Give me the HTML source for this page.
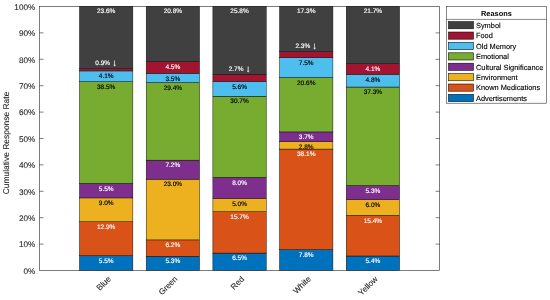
<!DOCTYPE html><html><head><meta charset="utf-8"><title>chart</title><style>html,body{margin:0;padding:0;background:#fff}svg{display:block}</style></head><body><svg width="550" height="300" viewBox="0 0 550 300" font-family="Liberation Sans, Arial, sans-serif" text-rendering="geometricPrecision">
<rect width="550" height="300" fill="#fff"/>
<rect x="79.51" y="255.73" width="53.35" height="14.52" fill="#0072BD" stroke="#000" stroke-width="0.45"/>
<rect x="79.51" y="221.67" width="53.35" height="34.06" fill="#D95319" stroke="#000" stroke-width="0.45"/>
<rect x="79.51" y="197.91" width="53.35" height="23.76" fill="#EDB120" stroke="#000" stroke-width="0.45"/>
<rect x="79.51" y="183.39" width="53.35" height="14.52" fill="#7E2F8E" stroke="#000" stroke-width="0.45"/>
<rect x="79.51" y="81.75" width="53.35" height="101.64" fill="#77AC30" stroke="#000" stroke-width="0.45"/>
<rect x="79.51" y="70.93" width="53.35" height="10.82" fill="#4DBEEE" stroke="#000" stroke-width="0.45"/>
<rect x="79.51" y="68.55" width="53.35" height="2.38" fill="#A2142F" stroke="#000" stroke-width="0.45"/>
<rect x="79.51" y="6.25" width="53.35" height="62.30" fill="#404040" stroke="#000" stroke-width="0.45"/>
<text x="106.18" y="262.93" font-size="6.5" fill="#fff" stroke="#fff" stroke-width="0.15" text-anchor="middle">5.5%</text>
<text x="106.18" y="228.87" font-size="6.5" fill="#fff" stroke="#fff" stroke-width="0.15" text-anchor="middle">12.9%</text>
<text x="106.18" y="205.11" font-size="6.5" fill="#000" stroke="#000" stroke-width="0.15" text-anchor="middle">9.0%</text>
<text x="106.18" y="190.59" font-size="6.5" fill="#fff" stroke="#fff" stroke-width="0.15" text-anchor="middle">5.5%</text>
<text x="106.18" y="88.95" font-size="6.5" fill="#000" stroke="#000" stroke-width="0.15" text-anchor="middle">38.5%</text>
<text x="106.18" y="78.13" font-size="6.5" fill="#000" stroke="#000" stroke-width="0.15" text-anchor="middle">4.1%</text>
<text x="106.18" y="65.05" font-size="6.5" fill="#fff" stroke="#fff" stroke-width="0.15" text-anchor="middle">0.9% <tspan font-size="9.5" dy="0.7" dx="0.3">↓</tspan></text>
<text x="106.18" y="13.45" font-size="6.5" fill="#fff" stroke="#fff" stroke-width="0.15" text-anchor="middle">23.6%</text>
<rect x="146.19" y="256.26" width="53.35" height="13.99" fill="#0072BD" stroke="#000" stroke-width="0.45"/>
<rect x="146.19" y="239.89" width="53.35" height="16.37" fill="#D95319" stroke="#000" stroke-width="0.45"/>
<rect x="146.19" y="179.17" width="53.35" height="60.72" fill="#EDB120" stroke="#000" stroke-width="0.45"/>
<rect x="146.19" y="160.16" width="53.35" height="19.01" fill="#7E2F8E" stroke="#000" stroke-width="0.45"/>
<rect x="146.19" y="82.55" width="53.35" height="77.62" fill="#77AC30" stroke="#000" stroke-width="0.45"/>
<rect x="146.19" y="73.31" width="53.35" height="9.24" fill="#4DBEEE" stroke="#000" stroke-width="0.45"/>
<rect x="146.19" y="61.43" width="53.35" height="11.88" fill="#A2142F" stroke="#000" stroke-width="0.45"/>
<rect x="146.19" y="6.25" width="53.35" height="55.18" fill="#404040" stroke="#000" stroke-width="0.45"/>
<text x="172.87" y="263.46" font-size="6.5" fill="#fff" stroke="#fff" stroke-width="0.15" text-anchor="middle">5.3%</text>
<text x="172.87" y="247.09" font-size="6.5" fill="#fff" stroke="#fff" stroke-width="0.15" text-anchor="middle">6.2%</text>
<text x="172.87" y="186.37" font-size="6.5" fill="#000" stroke="#000" stroke-width="0.15" text-anchor="middle">23.0%</text>
<text x="172.87" y="167.36" font-size="6.5" fill="#fff" stroke="#fff" stroke-width="0.15" text-anchor="middle">7.2%</text>
<text x="172.87" y="89.75" font-size="6.5" fill="#000" stroke="#000" stroke-width="0.15" text-anchor="middle">29.4%</text>
<text x="172.87" y="80.51" font-size="6.5" fill="#000" stroke="#000" stroke-width="0.15" text-anchor="middle">3.5%</text>
<text x="172.87" y="68.63" font-size="6.5" fill="#fff" stroke="#fff" stroke-width="0.15" text-anchor="middle">4.5%</text>
<text x="172.87" y="13.45" font-size="6.5" fill="#fff" stroke="#fff" stroke-width="0.15" text-anchor="middle">20.8%</text>
<rect x="212.88" y="253.09" width="53.35" height="17.16" fill="#0072BD" stroke="#000" stroke-width="0.45"/>
<rect x="212.88" y="211.64" width="53.35" height="41.45" fill="#D95319" stroke="#000" stroke-width="0.45"/>
<rect x="212.88" y="198.44" width="53.35" height="13.20" fill="#EDB120" stroke="#000" stroke-width="0.45"/>
<rect x="212.88" y="177.32" width="53.35" height="21.12" fill="#7E2F8E" stroke="#000" stroke-width="0.45"/>
<rect x="212.88" y="96.27" width="53.35" height="81.05" fill="#77AC30" stroke="#000" stroke-width="0.45"/>
<rect x="212.88" y="81.49" width="53.35" height="14.78" fill="#4DBEEE" stroke="#000" stroke-width="0.45"/>
<rect x="212.88" y="74.36" width="53.35" height="7.13" fill="#A2142F" stroke="#000" stroke-width="0.45"/>
<rect x="212.88" y="6.25" width="53.35" height="68.11" fill="#404040" stroke="#000" stroke-width="0.45"/>
<text x="239.55" y="260.29" font-size="6.5" fill="#fff" stroke="#fff" stroke-width="0.15" text-anchor="middle">6.5%</text>
<text x="239.55" y="218.84" font-size="6.5" fill="#fff" stroke="#fff" stroke-width="0.15" text-anchor="middle">15.7%</text>
<text x="239.55" y="205.64" font-size="6.5" fill="#000" stroke="#000" stroke-width="0.15" text-anchor="middle">5.0%</text>
<text x="239.55" y="184.52" font-size="6.5" fill="#fff" stroke="#fff" stroke-width="0.15" text-anchor="middle">8.0%</text>
<text x="239.55" y="103.47" font-size="6.5" fill="#000" stroke="#000" stroke-width="0.15" text-anchor="middle">30.7%</text>
<text x="239.55" y="88.69" font-size="6.5" fill="#000" stroke="#000" stroke-width="0.15" text-anchor="middle">5.6%</text>
<text x="239.55" y="70.86" font-size="6.5" fill="#fff" stroke="#fff" stroke-width="0.15" text-anchor="middle">2.7% <tspan font-size="9.5" dy="0.7" dx="0.3">↓</tspan></text>
<text x="239.55" y="13.45" font-size="6.5" fill="#fff" stroke="#fff" stroke-width="0.15" text-anchor="middle">25.8%</text>
<rect x="279.56" y="249.66" width="53.35" height="20.59" fill="#0072BD" stroke="#000" stroke-width="0.45"/>
<rect x="279.56" y="149.07" width="53.35" height="100.58" fill="#D95319" stroke="#000" stroke-width="0.45"/>
<rect x="279.56" y="141.68" width="53.35" height="7.39" fill="#EDB120" stroke="#000" stroke-width="0.45"/>
<rect x="279.56" y="131.91" width="53.35" height="9.77" fill="#7E2F8E" stroke="#000" stroke-width="0.45"/>
<rect x="279.56" y="77.53" width="53.35" height="54.38" fill="#77AC30" stroke="#000" stroke-width="0.45"/>
<rect x="279.56" y="57.73" width="53.35" height="19.80" fill="#4DBEEE" stroke="#000" stroke-width="0.45"/>
<rect x="279.56" y="51.66" width="53.35" height="6.07" fill="#A2142F" stroke="#000" stroke-width="0.45"/>
<rect x="279.56" y="6.25" width="53.35" height="45.41" fill="#404040" stroke="#000" stroke-width="0.45"/>
<text x="306.23" y="256.86" font-size="6.5" fill="#fff" stroke="#fff" stroke-width="0.15" text-anchor="middle">7.8%</text>
<text x="306.23" y="156.27" font-size="6.5" fill="#fff" stroke="#fff" stroke-width="0.15" text-anchor="middle">38.1%</text>
<text x="306.23" y="148.88" font-size="6.5" fill="#000" stroke="#000" stroke-width="0.15" text-anchor="middle">2.8%</text>
<text x="306.23" y="139.11" font-size="6.5" fill="#fff" stroke="#fff" stroke-width="0.15" text-anchor="middle">3.7%</text>
<text x="306.23" y="84.73" font-size="6.5" fill="#000" stroke="#000" stroke-width="0.15" text-anchor="middle">20.6%</text>
<text x="306.23" y="64.93" font-size="6.5" fill="#000" stroke="#000" stroke-width="0.15" text-anchor="middle">7.5%</text>
<text x="306.23" y="48.16" font-size="6.5" fill="#fff" stroke="#fff" stroke-width="0.15" text-anchor="middle">2.3% <tspan font-size="9.5" dy="0.7" dx="0.3">↓</tspan></text>
<text x="306.23" y="13.45" font-size="6.5" fill="#fff" stroke="#fff" stroke-width="0.15" text-anchor="middle">17.3%</text>
<rect x="346.24" y="255.99" width="53.35" height="14.26" fill="#0072BD" stroke="#000" stroke-width="0.45"/>
<rect x="346.24" y="215.34" width="53.35" height="40.66" fill="#D95319" stroke="#000" stroke-width="0.45"/>
<rect x="346.24" y="199.50" width="53.35" height="15.84" fill="#EDB120" stroke="#000" stroke-width="0.45"/>
<rect x="346.24" y="185.51" width="53.35" height="13.99" fill="#7E2F8E" stroke="#000" stroke-width="0.45"/>
<rect x="346.24" y="87.03" width="53.35" height="98.47" fill="#77AC30" stroke="#000" stroke-width="0.45"/>
<rect x="346.24" y="74.36" width="53.35" height="12.67" fill="#4DBEEE" stroke="#000" stroke-width="0.45"/>
<rect x="346.24" y="63.54" width="53.35" height="10.82" fill="#A2142F" stroke="#000" stroke-width="0.45"/>
<rect x="346.24" y="6.25" width="53.35" height="57.29" fill="#404040" stroke="#000" stroke-width="0.45"/>
<text x="372.92" y="263.19" font-size="6.5" fill="#fff" stroke="#fff" stroke-width="0.15" text-anchor="middle">5.4%</text>
<text x="372.92" y="222.54" font-size="6.5" fill="#fff" stroke="#fff" stroke-width="0.15" text-anchor="middle">15.4%</text>
<text x="372.92" y="206.70" font-size="6.5" fill="#000" stroke="#000" stroke-width="0.15" text-anchor="middle">6.0%</text>
<text x="372.92" y="192.71" font-size="6.5" fill="#fff" stroke="#fff" stroke-width="0.15" text-anchor="middle">5.3%</text>
<text x="372.92" y="94.23" font-size="6.5" fill="#000" stroke="#000" stroke-width="0.15" text-anchor="middle">37.3%</text>
<text x="372.92" y="81.56" font-size="6.5" fill="#000" stroke="#000" stroke-width="0.15" text-anchor="middle">4.8%</text>
<text x="372.92" y="70.74" font-size="6.5" fill="#fff" stroke="#fff" stroke-width="0.15" text-anchor="middle">4.1%</text>
<text x="372.92" y="13.45" font-size="6.5" fill="#fff" stroke="#fff" stroke-width="0.15" text-anchor="middle">21.7%</text>
<rect x="39.5" y="6.5" width="400.10" height="264.00" fill="none" stroke="#262626" stroke-width="0.6"/>
<text x="35.3" y="273.70" font-size="8.2" fill="#262626" stroke="#262626" stroke-width="0.1" text-anchor="end">0%</text>
<path d="M39.5 244.10h4M439.6 244.10h-4" stroke="#262626" stroke-width="0.6" fill="none"/>
<text x="35.3" y="247.30" font-size="8.2" fill="#262626" stroke="#262626" stroke-width="0.1" text-anchor="end">10%</text>
<path d="M39.5 217.70h4M439.6 217.70h-4" stroke="#262626" stroke-width="0.6" fill="none"/>
<text x="35.3" y="220.90" font-size="8.2" fill="#262626" stroke="#262626" stroke-width="0.1" text-anchor="end">20%</text>
<path d="M39.5 191.30h4M439.6 191.30h-4" stroke="#262626" stroke-width="0.6" fill="none"/>
<text x="35.3" y="194.50" font-size="8.2" fill="#262626" stroke="#262626" stroke-width="0.1" text-anchor="end">30%</text>
<path d="M39.5 164.90h4M439.6 164.90h-4" stroke="#262626" stroke-width="0.6" fill="none"/>
<text x="35.3" y="168.10" font-size="8.2" fill="#262626" stroke="#262626" stroke-width="0.1" text-anchor="end">40%</text>
<path d="M39.5 138.50h4M439.6 138.50h-4" stroke="#262626" stroke-width="0.6" fill="none"/>
<text x="35.3" y="141.70" font-size="8.2" fill="#262626" stroke="#262626" stroke-width="0.1" text-anchor="end">50%</text>
<path d="M39.5 112.10h4M439.6 112.10h-4" stroke="#262626" stroke-width="0.6" fill="none"/>
<text x="35.3" y="115.30" font-size="8.2" fill="#262626" stroke="#262626" stroke-width="0.1" text-anchor="end">60%</text>
<path d="M39.5 85.70h4M439.6 85.70h-4" stroke="#262626" stroke-width="0.6" fill="none"/>
<text x="35.3" y="88.90" font-size="8.2" fill="#262626" stroke="#262626" stroke-width="0.1" text-anchor="end">70%</text>
<path d="M39.5 59.30h4M439.6 59.30h-4" stroke="#262626" stroke-width="0.6" fill="none"/>
<text x="35.3" y="62.50" font-size="8.2" fill="#262626" stroke="#262626" stroke-width="0.1" text-anchor="end">80%</text>
<path d="M39.5 32.90h4M439.6 32.90h-4" stroke="#262626" stroke-width="0.6" fill="none"/>
<text x="35.3" y="36.10" font-size="8.2" fill="#262626" stroke="#262626" stroke-width="0.1" text-anchor="end">90%</text>
<text x="35.3" y="9.70" font-size="8.2" fill="#262626" stroke="#262626" stroke-width="0.1" text-anchor="end">100%</text>
<text transform="translate(111.38,279.50) rotate(-45)" font-size="8.2" fill="#262626" stroke="#262626" stroke-width="0.1" text-anchor="end">Blue</text>
<text transform="translate(178.07,279.50) rotate(-45)" font-size="8.2" fill="#262626" stroke="#262626" stroke-width="0.1" text-anchor="end">Green</text>
<text transform="translate(244.75,279.50) rotate(-45)" font-size="8.2" fill="#262626" stroke="#262626" stroke-width="0.1" text-anchor="end">Red</text>
<text transform="translate(311.43,279.50) rotate(-45)" font-size="8.2" fill="#262626" stroke="#262626" stroke-width="0.1" text-anchor="end">White</text>
<text transform="translate(378.12,279.50) rotate(-45)" font-size="8.2" fill="#262626" stroke="#262626" stroke-width="0.1" text-anchor="end">Yellow</text>
<text transform="translate(9.1,143.00) rotate(-90)" font-size="8.45" fill="#262626" stroke="#262626" stroke-width="0.1" text-anchor="middle">Cumulative Response Rate</text>
<rect x="446.4" y="6.6" width="100.00" height="96.60" fill="#fff" stroke="#262626" stroke-width="0.55"/>
<path d="M446.4 19.4H546.4" stroke="#262626" stroke-width="0.55"/>
<text x="496.40" y="16" font-size="7.4" font-weight="bold" fill="#000" text-anchor="middle">Reasons</text>
<rect x="448.5" y="21.60" width="25" height="7.2" fill="#404040" stroke="#000" stroke-width="0.55"/>
<text x="476" y="27.90" font-size="7.4" fill="#000" stroke="#000" stroke-width="0.12">Symbol</text>
<rect x="448.5" y="32.00" width="25" height="7.2" fill="#A2142F" stroke="#000" stroke-width="0.55"/>
<text x="476" y="38.30" font-size="7.4" fill="#000" stroke="#000" stroke-width="0.12">Food</text>
<rect x="448.5" y="42.40" width="25" height="7.2" fill="#4DBEEE" stroke="#000" stroke-width="0.55"/>
<text x="476" y="48.70" font-size="7.4" fill="#000" stroke="#000" stroke-width="0.12">Old Memory</text>
<rect x="448.5" y="52.80" width="25" height="7.2" fill="#77AC30" stroke="#000" stroke-width="0.55"/>
<text x="476" y="59.10" font-size="7.4" fill="#000" stroke="#000" stroke-width="0.12">Emotional</text>
<rect x="448.5" y="63.20" width="25" height="7.2" fill="#7E2F8E" stroke="#000" stroke-width="0.55"/>
<text x="476" y="69.50" font-size="7.4" fill="#000" stroke="#000" stroke-width="0.12">Cultural Significance</text>
<rect x="448.5" y="73.60" width="25" height="7.2" fill="#EDB120" stroke="#000" stroke-width="0.55"/>
<text x="476" y="79.90" font-size="7.4" fill="#000" stroke="#000" stroke-width="0.12">Environment</text>
<rect x="448.5" y="84.00" width="25" height="7.2" fill="#D95319" stroke="#000" stroke-width="0.55"/>
<text x="476" y="90.30" font-size="7.4" fill="#000" stroke="#000" stroke-width="0.12">Known Medications</text>
<rect x="448.5" y="94.40" width="25" height="7.2" fill="#0072BD" stroke="#000" stroke-width="0.55"/>
<text x="476" y="100.70" font-size="7.4" fill="#000" stroke="#000" stroke-width="0.12">Advertisements</text>
</svg></body></html>
